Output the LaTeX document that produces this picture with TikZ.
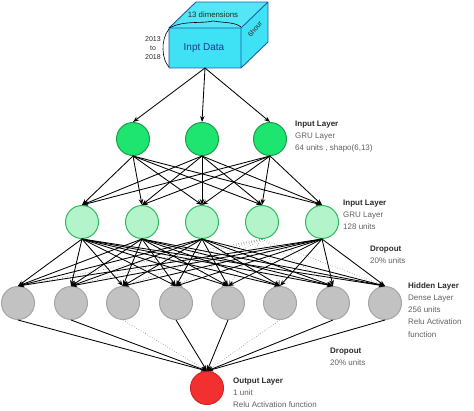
\documentclass[tikz,border=0pt]{standalone}
\usepackage{fontspec}
\setmainfont{Liberation Sans}
\usetikzlibrary{arrows.meta}
\definecolor{gA}{HTML}{1EE470}
\definecolor{gAb}{HTML}{1A9E48}
\definecolor{gB}{HTML}{B4F4CA}
\definecolor{gBb}{HTML}{2DB85C}
\definecolor{grC}{HTML}{C2C2C2}
\definecolor{grCb}{HTML}{A4A4A4}
\definecolor{rdO}{HTML}{F23030}
\definecolor{rdOb}{HTML}{D82020}
\definecolor{cyF}{HTML}{3EE2F4}
\definecolor{cyT}{HTML}{52E6F6}
\definecolor{cyB}{HTML}{1E5CA8}
\definecolor{txB}{HTML}{2A2A2A}
\definecolor{txG}{HTML}{606060}
\definecolor{txD}{HTML}{1C3C8C}
\begin{document}
\begin{tikzpicture}[x=1pt,y=-1pt,
  neuron/.style={circle,minimum size=33pt,inner sep=0pt,line width=1pt},
  nA/.style={neuron,fill=gA,draw=gAb},
  nB/.style={neuron,fill=gB,draw=gBb},
  nC/.style={neuron,fill=grC,draw=grCb},
  nO/.style={neuron,fill=rdO,draw=rdOb},
  conn/.style={-{Stealth[length=6pt,width=4.5pt]},line width=0.85pt,black},
  dconn/.style={-{Stealth[length=6pt,width=4.5pt]},line width=0.6pt,gray,dotted},
  lbl/.style={anchor=base west,inner sep=0pt,align=left,font=\fontsize{8}{12.3}\selectfont,text=txG},
]
\useasboundingbox (0,0) rectangle (474,410);

% box
\fill[cyT] (169,28) -- (241,28) -- (268,2) -- (196,2) -- cycle;
\fill[cyF] (241,28) -- (268,2) -- (268,42) -- (241,68) -- cycle;
\fill[cyF] (169,28) rectangle (241,68);
\draw[cyB,line width=0.9pt,line join=round] (169,28) -- (196,2) -- (268,2) -- (268,42) -- (241,68) -- (169,68) -- cycle
  (169,28) -- (241,28) -- (268,2) (241,28) -- (241,68);
\draw[black,line width=0.6pt] (169,28) .. controls (185,20) and (200,24) .. (213,21) .. controls (225,23) and (235,22) .. (241,27);
\draw[black,line width=0.6pt] (169,29) .. controls (160,40) and (162,60) .. (169,67);
\node[inner sep=0pt,font=\fontsize{7.8}{9}\selectfont,text=txB] (dim) at (213,15) {13 dimensions};
\node[inner sep=0pt,font=\fontsize{7}{9}\selectfont,text=txB,rotate=50] (hr) at (255,29) {6hour};
\node[inner sep=0pt,align=center,font=\fontsize{7}{9}\selectfont,text=txB] (yrs) at (153,48) {2013\\to\\2018};
\node[inner sep=0pt,font=\fontsize{10}{11}\selectfont,text=txD] (inp) at (204,48) {Inpt Data};
\coordinate (boxb) at (205,68);

% layer 1
\foreach \i/\x in {1/133,2/202,3/270} \node[nA] (a\i) at (\x,139) {};
% layer 2
\foreach \i/\x in {1/82,2/142,3/202,4/262,5/322} \node[nB] (b\i) at (\x,222) {};
% layer 3
\foreach \i/\x in {1/18,2/71,3/123,4/176,5/228,6/280,7/333,8/385} \node[nC] (c\i) at (\x,303) {};
% output
\node[nO] (out) at (207,388) {};

% connections
\foreach \i in {1,2,3} \draw[conn] (boxb) -- (a\i.north);
\foreach \i in {1,2,3} \foreach \j in {1,...,5} \draw[conn] (a\i.south) -- (b\j.north);
\foreach \j in {1,...,8} \draw[dconn] (b4.south) -- (c\j.north);
\foreach \i in {1,2,3,5} \foreach \j in {1,...,8} \draw[conn] (b\i.south) -- (c\j.north);
\foreach \j in {3,6} \draw[dconn] (c\j.south) -- (out.north);
\foreach \j in {1,2,4,5,7,8} \draw[conn] (c\j.south) -- (out.north);

% labels (base = baseline of the last line)
\node[lbl] (l1) at (295,150.6) {\textcolor{txB}{\textbf{Input Layer}}\\GRU Layer\\64 units , shapo(6,13)};
\node[lbl] (l2) at (343,229.6) {\textcolor{txB}{\textbf{Input Layer}}\\GRU Layer\\128 units};
\node[lbl] (l3) at (370,263.3) {\textcolor{txB}{\textbf{Dropout}}\\20\% units};
\node[lbl] (l4) at (408,337.2) {\textcolor{txB}{\textbf{Hidden Layer}}\\Dense Layer\\256 units\\Relu Activation\\function};
\node[lbl] (l5) at (330,365.3) {\textcolor{txB}{\textbf{Dropout}}\\20\% units};
\node[lbl] (l6) at (233,407.6) {\textcolor{txB}{\textbf{Output Layer}}\\1 unit\\Relu Activation function};
\end{tikzpicture}
\end{document}
